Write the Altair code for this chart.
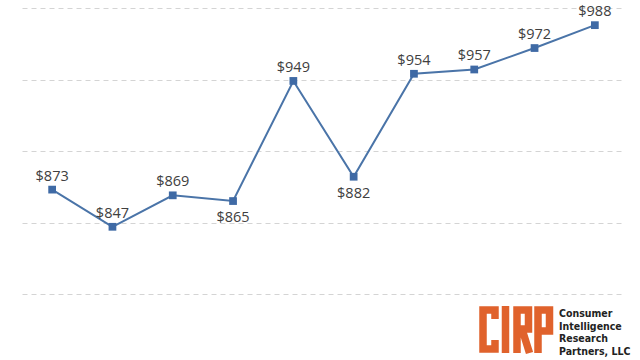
import altair as alt
import pandas as pd

periods = ["P1", "P2", "P3", "P4", "P5", "P6", "P7", "P8", "P9", "P10"]
values = [873, 847, 869, 865, 949, 882, 954, 957, 972, 988]
label_pos = ["above", "above", "above", "below", "above", "below", "above", "above", "above", "above"]
labels = [f"${v}" for v in values]

df = pd.DataFrame({"period": periods, "value": values, "label": labels, "pos": label_pos})

x_enc = alt.X("period:N", sort=periods, axis=None, scale=alt.Scale(paddingInner=0, paddingOuter=0))
y_enc = alt.Y("value:Q", scale=alt.Scale(domain=[800, 1000], nice=False, zero=False),
              axis=alt.Axis(values=[800, 850, 900, 950, 1000], labels=False, ticks=False, domain=False,
                            title=None, grid=True, gridColor="#d4d4d4", gridDash=[5, 4], gridWidth=1))

base = alt.Chart(df)
line = base.mark_line(color="#4a74a8", strokeWidth=2).encode(x=x_enc, y=y_enc)
pts = base.mark_square(color="#3f6aa5", size=60, opacity=1).encode(x=x_enc, y="value:Q")
above = base.transform_filter("datum.pos == 'above'").mark_text(
    dy=-13, fontSize=14.5, font="Open Sans", color="#404040").encode(x=x_enc, y="value:Q", text="label:N")
below = base.transform_filter("datum.pos == 'below'").mark_text(
    dy=17, fontSize=14.5, font="Open Sans", color="#404040").encode(x=x_enc, y="value:Q", text="label:N")

# --- CIRP logo (decoration), drawn as a stroked custom symbol ---
cx, cy, r = 516.0, 329.5, 37.0
strokes = [
    [(495, 319), (495, 310), (483, 310), (483, 349), (495, 349), (495, 340)],
    [(505.5, 306), (505.5, 353)],
    [(517, 353), (517, 310), (528.5, 310), (528.5, 329), (517, 329)],
    [(522, 329), (529.5, 353)],
    [(538, 353), (538, 310), (549.5, 310), (549.5, 331), (538, 331)],
]
path = " ".join(
    "M" + " L".join(f"{(px - cx) / r:.4f},{(py - cy) / r:.4f}" for px, py in s) for s in strokes
)
logo = alt.Chart(pd.DataFrame({"t": ["CIRP"]})).mark_point(
    shape=path, filled=False, stroke="#e0622c", strokeWidth=7.5, strokeCap="butt",
    strokeJoin="miter", opacity=1, size=(2 * r) ** 2
).encode(x=alt.value(cx - 22), y=alt.value(cy - 8))

logo_lines = ["Consumer", "Intelligence", "Research", "Partners, LLC"]
logo_txt = alt.layer(*[
    alt.Chart(pd.DataFrame({"t": [s]})).mark_text(
        font="DejaVu Sans Condensed", fontWeight="bold", fontSize=10.5, color="#222222",
        align="left", baseline="alphabetic").encode(
            x=alt.value(537), y=alt.value(309 + 12.5 * i), text="t:N")
    for i, s in enumerate(logo_lines)
])

chart = alt.layer(line, pts, above, below, logo, logo_txt).properties(
    width=603, height=286,
    padding={"left": 22, "top": 8, "right": 15, "bottom": 66},
    autosize=alt.AutoSizeParams(type="none"),
    background="white",
).configure_view(stroke=None)

chart.save("out.html", embed_options={"renderer": "svg", "actions": False})
